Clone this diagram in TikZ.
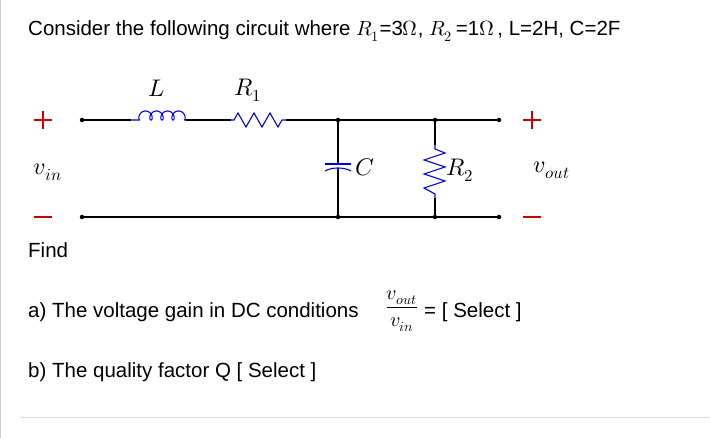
\documentclass[tikz,border=0pt]{standalone}
\usepackage{fontspec}
\usepackage{unicode-math}
\setmainfont{Liberation Sans}
\setmathfont{Latin Modern Math}
\begin{document}
\begin{tikzpicture}[x=1pt,y=-1pt,
  wire/.style={black,line width=1.1pt},
  comp/.style={blue!90!black,line width=1.1pt},
  dot/.style={circle,fill=black,inner sep=0pt,minimum size=4.5pt},
  sgn/.style={red!80!black,line width=1.4pt},
  txt/.style={inner sep=0pt,anchor=base west,font=\fontsize{20.5}{24}\selectfont},
  ml/.style={inner sep=0pt,font=\fontsize{24}{28}\selectfont}]
\useasboundingbox (0,0) rectangle (710,438);
\draw[gray!40,line width=1pt] (0.5,0) -- (0.5,438);
\node[txt] (title) at (28,36) {Consider the following circuit where $R_1$=3$\Omega$, $R_2$\,=1$\Omega$\,, L=2H, C=2F};
% nodes
\node[dot] (a) at (82,120) {};
\node[dot] (b) at (82,217) {};
\coordinate (l1) at (131,120); \coordinate (l2) at (186,120);
\coordinate (r1) at (231,120); \coordinate (r2) at (286,120);
\node[dot] (ct) at (338,120) {}; \node[dot] (cb) at (338,217) {};
\node[dot] (rt) at (435,120) {}; \node[dot] (rb) at (435,217) {};
\node[dot] (d) at (499,120) {}; \node[dot] (e) at (499,217) {};
\coordinate (c1) at (338,162); \coordinate (c2) at (338,170);
\coordinate (q1) at (435,145); \coordinate (q2) at (435,198);
% wires
\draw[wire] (a) -- (l1) (l2) -- (r1) (r2) -- (ct) -- (rt) -- (d);
\draw[wire] (b) -- (cb) -- (rb) -- (e);
\draw[wire] (ct) -- (c1) (c2) -- (cb);
\draw[wire] (rt) -- (q1) (q2) -- (rb);
% inductor
\draw[comp] (l1) -- (140,120)
  plot[domain=0:4,samples=240,smooth] ({140+11*\x-3.5*sin(360*\x)},{120-4.5*(1-cos(360*\x))}) -- (l2);
% R1
\draw[comp] (r1) -- (234,120) -- (238,113) -- (246,127) -- (254,113) -- (262,127) -- (270,113) -- (278,127) -- (282,120) -- (r2);
% C
\draw[comp] (c1) -- (338,164);
\draw[comp] (325,164) -- (351,164);
\draw[comp] (325,171) .. controls (332,167) and (344,167) .. (351,171);
\draw[comp] (338,168) -- (c2);
% R2
\draw[comp] (q1) -- (435,149) -- (445,153) -- (424,160) -- (445,167) -- (424,174) -- (445,181) -- (424,188) -- (435,194) -- (q2);
% labels
\node[ml] (lL) at (157,88) {$L$};
\node[ml] (lR1) at (248,90) {$R_1$};
\node[ml,anchor=west] (lC) at (355,167) {$C$};
\node[ml,anchor=west] (lR2) at (446,170) {$R_2$};
\node[ml] (vin) at (48,172) {$v_{in}$};
\node[ml] (vout) at (552,170) {$v_{out}$};
% signs
\draw[sgn] (34,120) -- (52,120) (43,111) -- (43,129);
\draw[sgn] (34,217) -- (52,217);
\draw[sgn] (523,120) -- (541,120) (532,111) -- (532,129);
\draw[sgn] (523,217) -- (541,217);
% text
\node[txt] (find) at (28,258) {Find};
\node[txt] (qa) at (28,318) {a) The voltage gain in DC conditions};
\node[inner sep=0pt,font=\fontsize{20}{24}\selectfont] (frac) at (402,311) {$\displaystyle\frac{v_{out}}{v_{in}}$};
\node[txt] (sel) at (424,318) {= [ Select ]};
\node[txt] (qb) at (28,378) {b) The quality factor Q [ Select ]};
\draw[gray!30,line width=1pt] (21,418) -- (710,418);
\end{tikzpicture}
\end{document}
